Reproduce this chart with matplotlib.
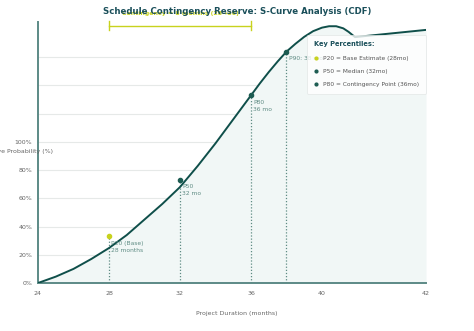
import matplotlib
matplotlib.use("Agg")
import matplotlib.pyplot as plt
from matplotlib.lines import Line2D

# colours
TEAL = "#0f4f4a"
DOT = "#1d5c52"
YEL = "#c8d21e"
LABEL = "#5f8c84"
GRID = "#e6e9e8"
SPINE = "#5c8a86"
FILL = "#f1f7f6"
TICK = "#666666"

# S-curve (months, cumulative %)
months = [24, 25, 26, 27, 28, 29, 30, 31, 32, 33, 34, 35, 36, 36.5, 37,
          37.5, 38, 38.5, 39, 39.5, 40, 40.4, 40.8, 41.2, 41.5, 41.86, 45.86]
cum_pct = [0, 4.5, 10, 17, 24.8, 34, 45, 56, 68, 83, 99, 116, 133, 141.5,
           149.5, 157, 164, 169.5, 174.5, 178.5, 181, 182, 182, 180.5, 178,
           174.3, 179.4]

# percentile markers
pct_names = ["P20", "P50", "P80", "P90"]
pct_months = [28, 32, 36, 38]
pct_dot_y = [33, 73, 133, 164]
pct_colors = [YEL, DOT, DOT, DOT]
pct_labels = ["P20 (Base)\n28 months", "P50\n32 mo", "P80\n36 mo", "P90: 38 mo"]

x_ticks = [24, 28, 32, 36, 40, 45.86]
x_tick_labels = ["24", "28", "32", "36", "40", "42"]
y_grid = [0, 20, 40, 60, 80, 100, 120, 140, 160]
y_ticks = [0, 20, 40, 60, 80, 100]
y_tick_labels = ["0%", "20%", "40%", "60%", "80%", "100%"]

legend_labels = ["P20 = Base Estimate (28mo)", "P50 = Median (32mo)",
                 "P80 = Contingency Point (36mo)"]
legend_colors = [YEL, DOT, DOT]

fig = plt.figure(figsize=(4.74, 3.31), dpi=100)
ax = fig.add_axes([38 / 474, 1 - 283 / 331, 388 / 474, 261 / 331])

ax.set_xlim(24, 45.86)
ax.set_ylim(0, 185)

for g in y_grid:
    ax.axhline(g, color=GRID, lw=0.8, zorder=0)

ax.fill_between(months, cum_pct, 0, color=FILL, zorder=1, lw=0)
ax.plot(months, cum_pct, color=TEAL, lw=1.4, zorder=3,
        solid_joinstyle="round")

for m, yv, c, lab in zip(pct_months, pct_dot_y, pct_colors, pct_labels):
    ax.plot([m, m], [0, yv], color=LABEL, lw=0.9, ls=(0, (1, 1.5)), zorder=2)
    ax.plot(m, yv, "o", color=c, ms=3, zorder=4)
    ax.text(m + 0.12, yv - 3, lab, fontsize=4.3, color=LABEL,
            va="top", ha="left", linespacing=1.5, zorder=3)

ax.set_xticks(x_ticks)
ax.set_xticklabels(x_tick_labels)
ax.set_yticks(y_ticks)
ax.set_yticklabels(y_tick_labels)
ax.tick_params(axis="both", length=0, labelsize=4.5, colors=TICK)
ax.tick_params(axis="x", pad=6)
ax.tick_params(axis="y", pad=4)

for s in ["top", "right"]:
    ax.spines[s].set_visible(False)
for s in ["left", "bottom"]:
    ax.spines[s].set_color(SPINE)
    ax.spines[s].set_linewidth(1.4)

# contingency bracket
ax.plot([28, 36], [182.5, 182.5], color=YEL, lw=1.0, clip_on=False, zorder=5)
for m in (28, 36):
    ax.plot([m, m], [179, 186], color=YEL, lw=1.0, clip_on=False, zorder=5)

fig.text(180 / 474, 1 - 14 / 331, "Contingency = 8 months (28\u219236)",
         fontsize=4.5, color=YEL, fontweight="bold", ha="center", va="center")
fig.text(237 / 474, 1 - 12 / 331,
         "Schedule Contingency Reserve: S-Curve Analysis (CDF)",
         fontsize=6.2, color="#1a4f5a", fontweight="bold",
         ha="center", va="center")

fig.text(53 / 474, 1 - 151 / 331, "Cumulative Probability (%)",
         fontsize=4.5, color=TICK, ha="right", va="center")
fig.text(237 / 474, 1 - 314 / 331, "Project Duration (months)",
         fontsize=4.5, color=TICK, ha="center", va="center")

handles = [Line2D([], [], ls="", marker="o", ms=2, color=c)
           for c in legend_colors]
leg = ax.legend(handles, legend_labels, title="Key Percentiles:",
                loc="upper right", bbox_to_anchor=(1.0, 0.95),
                fontsize=4.2, title_fontproperties={"size": 4.8, "weight": "bold"},
                alignment="left", frameon=True, fancybox=True,
                borderpad=1.1, labelspacing=1.4, handletextpad=0.7,
                handlelength=1.0, borderaxespad=0)
leg.get_title().set_color("#1a4f5a")
for t in leg.get_texts():
    t.set_color("#555555")
leg.get_frame().set_edgecolor("#e2e6e5")
leg.get_frame().set_linewidth(0.6)
leg.set_zorder(6)

fig.savefig("out.png", dpi=100)
